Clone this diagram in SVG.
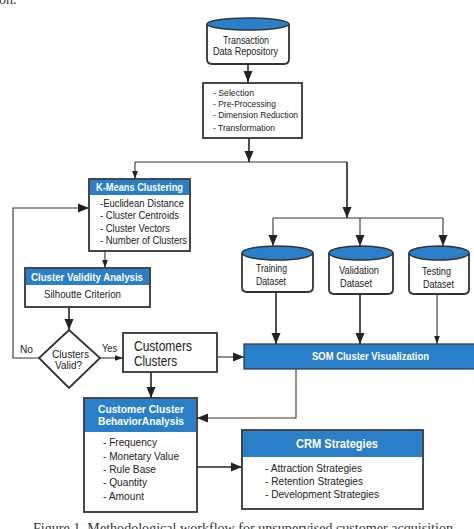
<svg xmlns="http://www.w3.org/2000/svg" width="474" height="529" viewBox="0 0 474 529">
<style>
text{font-family:"Liberation Sans",Arial,sans-serif;fill:#222}
.t{font-size:11px}
.p{font-size:9.5px}
.h{font-size:11px;font-weight:bold;fill:#fff}
.big{font-size:14px}
.cap{font-family:"Liberation Serif","Times New Roman",serif;font-size:14px;fill:#333}
.box{fill:#fff;stroke:#333;stroke-width:1.8}
.hdr{fill:#2a80c8}
.ln{fill:none;stroke:#222;stroke-width:1.6}
.lt{fill:none;stroke:#333;stroke-width:1.1}
.cyl{fill:#fff;stroke:#333;stroke-width:1.8}
.top{fill:#2a80c8;stroke:#333;stroke-width:1.5}
</style>
<defs>
<marker id="a" markerUnits="userSpaceOnUse" markerWidth="12" markerHeight="12" viewBox="0 0 12 12" refX="11" refY="6" orient="auto"><path d="M0,1.5 L11,6 L0,10.5 Z" fill="#222"/></marker>
<marker id="s" markerUnits="userSpaceOnUse" markerWidth="9" markerHeight="9" viewBox="0 0 9 9" refX="8.5" refY="4.5" orient="auto"><path d="M0,1.5 L8.5,4.5 L0,7.5 Z" fill="#222"/></marker>
</defs>

<text class="cap" x="-1" y="4">on.</text>

<g id="connectors">
<path class="ln" d="M248,64 V82" marker-end="url(#a)"/>
<path class="ln" d="M249,138 V162" marker-end="url(#a)"/>
<path class="lt" d="M135,162 H347"/>
<path class="lt" d="M135,162 V179" marker-end="url(#s)"/>
<path class="ln" d="M347,162 V218" marker-end="url(#a)"/>
<path class="lt" d="M273,218 H443"/>
<path class="lt" d="M273,218 V246" marker-end="url(#a)"/>
<path class="lt" d="M360,218 V246" marker-end="url(#a)"/>
<path class="lt" d="M443,218 V246" marker-end="url(#a)"/>
<path class="ln" d="M276,292 V344" marker-end="url(#a)"/>
<path class="ln" d="M360,294 V344" marker-end="url(#a)"/>
<path class="lt" d="M437,294 V344" marker-end="url(#s)"/>
<path class="lt" d="M105,251 V268" marker-end="url(#s)"/>
<path class="ln" d="M69,307 V330" marker-end="url(#a)"/>
<path class="lt" d="M39,358 H13 V208 H89" marker-end="url(#a)"/>
<path class="lt" d="M100,358 H123" marker-end="url(#s)"/>
<path class="lt" d="M217,357 H244" marker-end="url(#a)"/>
<path class="ln" d="M151,372 V398" marker-end="url(#a)"/>
<path class="lt" d="M296,369 V418 H197" marker-end="url(#a)"/>
<path class="ln" d="M197,467 H242" marker-end="url(#a)"/>
<text class="t" x="20" y="353" textLength="13" lengthAdjust="spacingAndGlyphs">No</text>
<text class="t" x="102" y="352" textLength="15" lengthAdjust="spacingAndGlyphs">Yes</text>
</g>

<g id="repo">
<path class="cyl" d="M207,24 V59 Q207,64 212,64 H284 Q289,64 289,59 V24"/>
<ellipse class="top" cx="248" cy="24" rx="41" ry="6"/>
<text class="t" x="223" y="44" textLength="46" lengthAdjust="spacingAndGlyphs">Transaction</text>
<text class="t" x="213" y="55" textLength="65" lengthAdjust="spacingAndGlyphs">Data Repository</text>
</g>

<g id="preprocess">
<rect class="box" x="203" y="83" width="99" height="55"/>
<text class="p" x="213" y="96" textLength="41" lengthAdjust="spacingAndGlyphs">- Selection</text>
<text class="p" x="213" y="107" textLength="63" lengthAdjust="spacingAndGlyphs">- Pre-Processing</text>
<text class="p" x="213" y="118" textLength="85" lengthAdjust="spacingAndGlyphs">- Dimension Reduction</text>
<text class="p" x="213" y="131" textLength="62" lengthAdjust="spacingAndGlyphs">- Transformation</text>
</g>

<g id="kmeans">
<rect class="box" x="89" y="179" width="101" height="72"/>
<rect class="hdr" x="90" y="180" width="99" height="15"/>
<text class="h" x="96" y="191" textLength="87" lengthAdjust="spacingAndGlyphs">K-Means Clustering</text>
<text class="t" x="100" y="207" textLength="84" lengthAdjust="spacingAndGlyphs">-Euclidean Distance</text>
<text class="t" x="100" y="219" textLength="79" lengthAdjust="spacingAndGlyphs">- Cluster Centroids</text>
<text class="t" x="100" y="232" textLength="70" lengthAdjust="spacingAndGlyphs">- Cluster Vectors</text>
<text class="t" x="100" y="244" textLength="87" lengthAdjust="spacingAndGlyphs">- Number of Clusters</text>
</g>

<g id="validity">
<rect class="box" x="25" y="268" width="125" height="39"/>
<rect class="hdr" x="26" y="269" width="123" height="16"/>
<text class="h" x="31" y="281" textLength="112" lengthAdjust="spacingAndGlyphs">Cluster Validity Analysis</text>
<text class="t" x="44" y="298" textLength="77" lengthAdjust="spacingAndGlyphs">Silhoutte Criterion</text>
</g>

<g id="decision">
<path class="box" d="M69,330 L100,358 L69,388 L39,358 Z"/>
<text class="t" x="52" y="358" textLength="37" lengthAdjust="spacingAndGlyphs">Clusters</text>
<text class="t" x="55" y="369" textLength="27" lengthAdjust="spacingAndGlyphs">Valid?</text>
</g>

<g id="customers">
<rect class="box" x="123" y="333" width="94" height="39"/>
<text class="big" x="134" y="351" textLength="58" lengthAdjust="spacingAndGlyphs">Customers</text>
<text class="big" x="134" y="366" textLength="43" lengthAdjust="spacingAndGlyphs">Clusters</text>
</g>

<g id="training">
<path class="cyl" d="M242,253 V287 Q242,292 247,292 H308 Q313,292 313,287 V253"/>
<ellipse class="top" cx="277.5" cy="253" rx="35.5" ry="7"/>
<text class="t" x="256" y="272" textLength="31" lengthAdjust="spacingAndGlyphs">Training</text>
<text class="t" x="256" y="285" textLength="30" lengthAdjust="spacingAndGlyphs">Dataset</text>
</g>

<g id="validation">
<path class="cyl" d="M329,253 V289 Q329,294 334,294 H388 Q393,294 393,289 V253"/>
<ellipse class="top" cx="361" cy="253" rx="32" ry="7"/>
<text class="t" x="339" y="274" textLength="40" lengthAdjust="spacingAndGlyphs">Validation</text>
<text class="t" x="340" y="287" textLength="32" lengthAdjust="spacingAndGlyphs">Dataset</text>
</g>

<g id="testing">
<path class="cyl" d="M409,253 V289 Q409,294 414,294 H464 Q469,294 469,289 V253"/>
<ellipse class="top" cx="439" cy="253" rx="30" ry="7"/>
<text class="t" x="422" y="275" textLength="29" lengthAdjust="spacingAndGlyphs">Testing</text>
<text class="t" x="423" y="288" textLength="31" lengthAdjust="spacingAndGlyphs">Dataset</text>
</g>

<g id="som">
<rect class="hdr" x="244" y="344" width="232" height="25" stroke="#333" stroke-width="1.2"/>
<text class="h" x="312" y="360" textLength="117" lengthAdjust="spacingAndGlyphs">SOM Cluster Visualization</text>
</g>

<g id="behavior">
<rect class="box" x="84" y="398" width="113" height="114"/>
<rect class="hdr" x="85" y="399" width="111" height="33"/>
<text class="h" x="98" y="413" textLength="86" lengthAdjust="spacingAndGlyphs">Customer Cluster</text>
<text class="h" x="98" y="425" textLength="86" lengthAdjust="spacingAndGlyphs">BehaviorAnalysis</text>
<text class="t" x="103" y="446" textLength="54" lengthAdjust="spacingAndGlyphs">- Frequency</text>
<text class="t" x="103" y="460" textLength="76" lengthAdjust="spacingAndGlyphs">- Monetary Value</text>
<text class="t" x="103" y="473" textLength="53" lengthAdjust="spacingAndGlyphs">- Rule Base</text>
<text class="t" x="103" y="486" textLength="44" lengthAdjust="spacingAndGlyphs">- Quantity</text>
<text class="t" x="103" y="500" textLength="41" lengthAdjust="spacingAndGlyphs">- Amount</text>
</g>

<g id="crm">
<rect class="box" x="242" y="430" width="181" height="79"/>
<rect class="hdr" x="243" y="431" width="179" height="26"/>
<text class="h" x="296" y="448" style="font-size:13px" textLength="82" lengthAdjust="spacingAndGlyphs">CRM Strategies</text>
<text class="t" x="265" y="472" textLength="97" lengthAdjust="spacingAndGlyphs">- Attraction Strategies</text>
<text class="t" x="265" y="485" textLength="98" lengthAdjust="spacingAndGlyphs">- Retention Strategies</text>
<text class="t" x="265" y="498" textLength="114" lengthAdjust="spacingAndGlyphs">- Development Strategies</text>
</g>

<text class="cap" x="33" y="533" textLength="420" lengthAdjust="spacingAndGlyphs">Figure 1. Methodological workflow for unsupervised customer acquisition</text>
</svg>
